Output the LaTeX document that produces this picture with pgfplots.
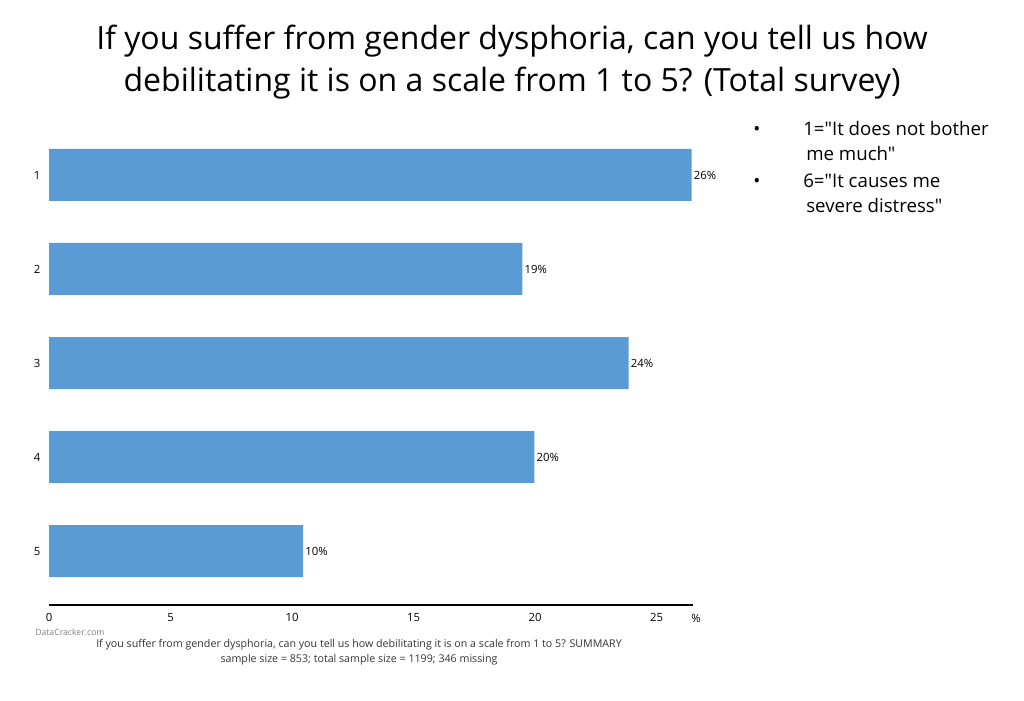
\documentclass[border=0pt]{standalone}
\usepackage{pgfplots}
\pgfplotsset{compat=1.18}
\usepackage{fontspec}
\setmainfont{Open Sans}
\newfontfamily\legfont{Open Sans}[Ligatures=TeXOff]
\definecolor{barblue}{HTML}{5B9BD5}
\begin{document}
\begin{tikzpicture}[x=0.75pt,y=0.75pt]
\path[use as bounding box] (0,0) rectangle (1024,700);
\begin{axis}[
  at={(36.75pt,71.25pt)}, anchor=south west,
  width=483pt, height=363pt, scale only axis,
  xmin=0, xmax=26.5, ymin=0.426, ymax=5.574, y dir=reverse,
  xbar, bar width=0.553,
  axis x line*=bottom, axis y line*=left,
  x axis line style={-, black, line width=0.9pt},
  y axis line style={draw=none},
  xtick={0,5,10,15,20,25}, ytick={1,2,3,4,5},
  major tick length=0pt,
  /pgf/number format/assume math mode=true,
  tick label style={font=\fontsize{8.5}{10}\selectfont, text=black},
  xticklabel style={yshift=-3pt},
  yticklabel style={xshift=-3pt},
  nodes near coords={\pgfmathprintnumber[fixed,precision=0]{\pgfplotspointmeta}\%},
  point meta=x,
  every node near coord/.append style={font=\fontsize{8.5}{10}\selectfont, text=black, anchor=west, inner sep=1.5pt},
  clip=false,
]
\addplot[draw=none, fill=barblue] coordinates {(26.44,1) (19.48,2) (23.85,3) (19.97,4) (10.46,5)};
\end{axis}
\node[anchor=base west, font=\fontsize{8.5}{10}\selectfont, inner sep=0] at (691,700-622) {\%};
% title
\node[font=\fontsize{24}{31.5}\selectfont, align=center, anchor=center] at (512,700-62) {If you suffer from gender dysphoria, can you tell us how\\debilitating it is on a scale from 1 to 5? (Total survey)};
% legend
\begin{scope}[every node/.style={font=\legfont\fontsize{14}{16}\selectfont, inner sep=0, anchor=base west}]
\node at (753,700-136) {\textbullet};
\node at (803,700-136) {1="It does not bother};
\node at (806,700-161) {me much"};
\node at (753,700-188) {\textbullet};
\node at (803,700-188) {6="It causes me};
\node at (806,700-213) {severe distress"};
\end{scope}
% footer
\node[anchor=base west, inner sep=0, font=\fontsize{6.5}{8}\selectfont, text=gray] at (35,700-635) {DataCracker.com};
\node[anchor=center, align=center, inner sep=0, font=\fontsize{8}{11}\selectfont, text=black!80] at (359,700-652) {If you suffer from gender dysphoria, can you tell us how debilitating it is on a scale from 1 to 5? SUMMARY\\sample size = 853; total sample size = 1199; 346 missing};
\end{tikzpicture}
\end{document}
